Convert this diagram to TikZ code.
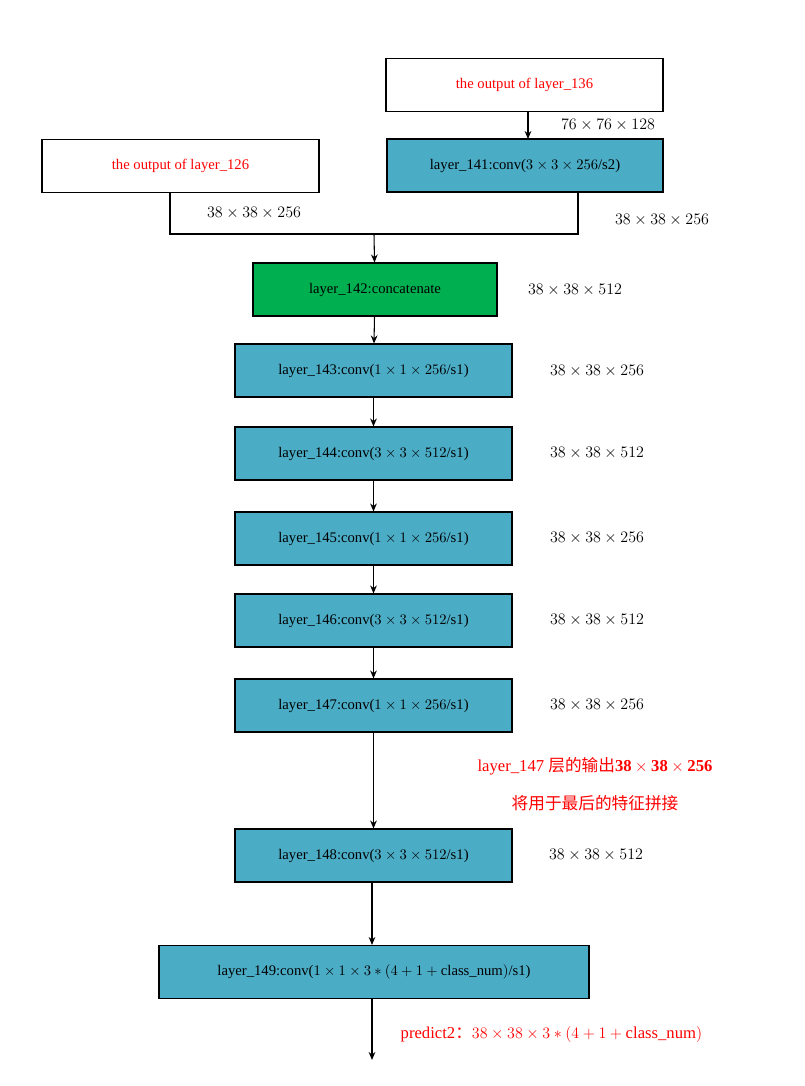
\documentclass[tikz,border=0pt]{standalone}
\usepackage{fontspec}
\setmainfont{Liberation Serif}
\newfontfamily\cjk{Noto Sans CJK SC}
\usetikzlibrary{arrows.meta}
\definecolor{bl}{HTML}{4BACC6}
\definecolor{gr}{HTML}{00B050}
\begin{document}
\begin{tikzpicture}[x=0.75pt,y=-0.75pt,
 box/.style={draw,line width=0.8pt,minimum height=39.75pt,font=\fontsize{11}{13}\selectfont,inner sep=0pt},
 arr/.style={-{Stealth[length=6pt,width=5pt]},line width=0.8pt},
 lab/.style={font=\fontsize{11.5}{13}\selectfont},
 red/.style={text=red,font=\fontsize{12.5}{15}\selectfont}]
\useasboundingbox (0,0) rectangle (804,1086);
\node[box,minimum width=207.75pt,text=red] (o136) at (524.5,85) {the output of layer\_136};
\node[box,minimum width=207pt,fill=bl] (l141) at (525,165.5) {layer\_141:conv($3\times3\times256$/s2)};
\node[box,minimum width=207.75pt,text=red] (o126) at (180.5,166) {the output of layer\_126};
\node[box,minimum width=183pt,fill=gr] (l142) at (375,289.5) {layer\_142:concatenate};
\node[box,minimum width=207.75pt,fill=bl] (l143) at (373.5,370.5) {layer\_143:conv($1\times1\times256$/s1)};
\node[box,minimum width=207.75pt,fill=bl] (l144) at (373.5,453.5) {layer\_144:conv($3\times3\times512$/s1)};
\node[box,minimum width=207.75pt,fill=bl] (l145) at (373.5,538.5) {layer\_145:conv($1\times1\times256$/s1)};
\node[box,minimum width=207.75pt,fill=bl] (l146) at (373.5,620.5) {layer\_146:conv($3\times3\times512$/s1)};
\node[box,minimum width=207.75pt,fill=bl] (l147) at (373.5,705.5) {layer\_147:conv($1\times1\times256$/s1)};
\node[box,minimum width=207.75pt,fill=bl] (l148) at (373.5,855.5) {layer\_148:conv($3\times3\times512$/s1)};
\node[box,minimum width=322.5pt,fill=bl] (l149) at (374,972) {layer\_149:conv($1\times1\times3*(4+1+\mathrm{class\_num})$/s1)};
\coordinate (j) at (374,234);
\coordinate (end) at (372,1060);
\draw[arr] (528,111) -- (528,139);
\draw[line width=0.8pt] (170,192) -- (170,234) -- (578,234) -- (578,192);
\draw[arr] (j) -- (l142);
\draw[arr] (l142) -- (l143);
\draw[arr] (l143) -- (l144);
\draw[arr] (l144) -- (l145);
\draw[arr] (l145) -- (l146);
\draw[arr] (l146) -- (l147);
\draw[arr] (l147) -- (l148);
\draw[arr] (l148.south -| 372,0) -- (l149.north -| 372,0);
\draw[arr] (l149.south -| 372,0) -- (end);
\node[lab] (t1) at (608,125) {$76\times76\times128$};
\node[lab] (t2) at (254,213) {$38\times38\times256$};
\node[lab] (t3) at (662,220) {$38\times38\times256$};
\node[lab] (t4) at (575,290) {$38\times38\times512$};
\node[lab] (t5) at (597,371) {$38\times38\times256$};
\node[lab] (t6) at (597,453) {$38\times38\times512$};
\node[lab] (t7) at (597,538) {$38\times38\times256$};
\node[lab] (t8) at (597,620) {$38\times38\times512$};
\node[lab] (t9) at (597,705) {$38\times38\times256$};
\node[lab] (t10) at (596,855) {$38\times38\times512$};
\node[red] (r1) at (595,766) {layer\_147 {\cjk 层的输出}$\mathbf{38\times38\times256}$};
\node[red] (r2) at (595,803) {\cjk 将用于最后的特征拼接};
\node[red,anchor=west] (r3) at (396,1034) {predict2{\cjk ：}$38\times38\times3*(4+1+\mathrm{class\_num})$};
\end{tikzpicture}
\end{document}
